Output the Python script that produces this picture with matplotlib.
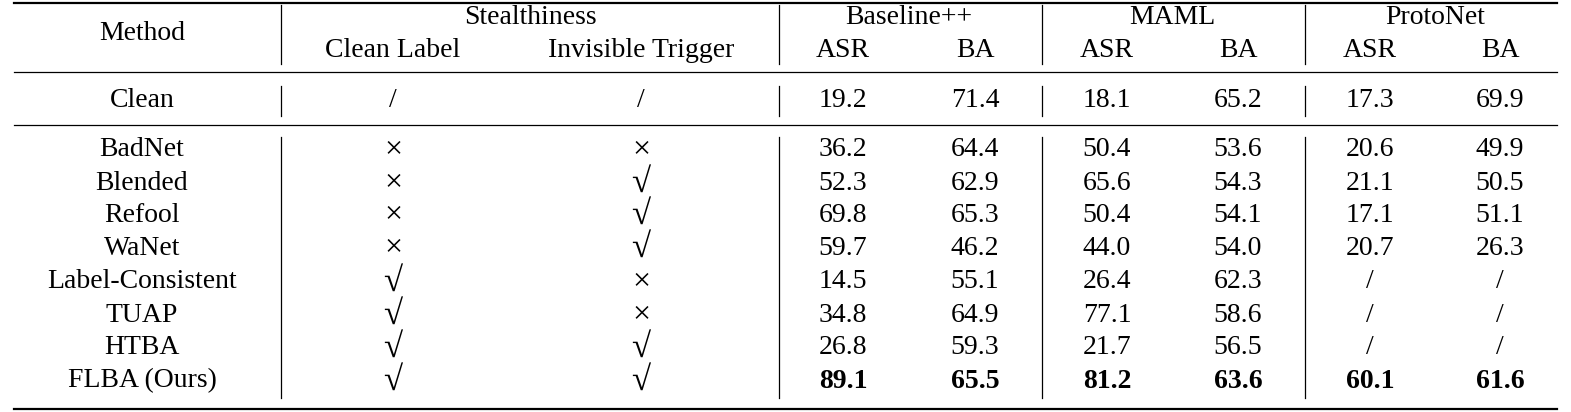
import matplotlib
matplotlib.use("Agg")
import matplotlib.pyplot as plt

plt.rcParams['font.family'] = ['Liberation Serif', 'DejaVu Serif']

methods = ["Clean", "BadNet", "Blended", "Refool", "WaNet", "Label-Consistent", "TUAP", "HTBA", "FLBA (Ours)"]
clean_label = ["/", "×", "×", "×", "×", "√", "√", "√", "√"]
invisible = ["/", "×", "√", "√", "√", "×", "×", "√", "√"]
baseline_asr = ["19.2", "36.2", "52.3", "69.8", "59.7", "14.5", "34.8", "26.8", "89.1"]
baseline_ba = ["71.4", "64.4", "62.9", "65.3", "46.2", "55.1", "64.9", "59.3", "65.5"]
maml_asr = ["18.1", "50.4", "65.6", "50.4", "44.0", "26.4", "77.1", "21.7", "81.2"]
maml_ba = ["65.2", "53.6", "54.3", "54.1", "54.0", "62.3", "58.6", "56.5", "63.6"]
proto_asr = ["17.3", "20.6", "21.1", "17.1", "20.7", "/", "/", "/", "60.1"]
proto_ba = ["69.9", "49.9", "50.5", "51.1", "26.3", "/", "/", "/", "61.6"]

W, H = 1571, 412
fig = plt.figure(figsize=(W/100, H/100), dpi=100)
ax = fig.add_axes([0, 0, 1, 1])
ax.set_xlim(0, W); ax.set_ylim(H, 0); ax.axis('off')

fs = 20
colx = [142, 393, 641, 843, 975, 1107, 1238, 1370, 1500]
def t(x, y, s, bold=False):
    size = fs
    if s == "√":
        size = 25
    elif s == "×":
        size = 23
    ax.text(x, y, s, ha='center', va='center', fontsize=size, fontweight='bold' if bold else 'normal')

t(142, 33, "Method")
t(530, 17, "Stealthiness")
t(393, 50, "Clean Label"); t(641, 50, "Invisible Trigger")
for cx, name in [(909, "Baseline++"), (1172, "MAML"), (1435, "ProtoNet")]:
    t(cx, 17, name)
for i, x in enumerate(colx[3:]):
    t(x, 50, "ASR" if i % 2 == 0 else "BA")

rows_y = [100, 150, 183, 215, 248, 282, 315, 348, 381]
cols = [methods, clean_label, invisible, baseline_asr, baseline_ba, maml_asr, maml_ba, proto_asr, proto_ba]
for r, y in enumerate(rows_y):
    for c, col in enumerate(cols):
        bold = (r == len(rows_y) - 1 and c >= 3)
        t(colx[c], y, col[r], bold)

ax.plot([14, 1557], [3, 3], color='black', lw=1.6)
ax.plot([14, 1557], [72, 72], color='black', lw=0.9)
ax.plot([14, 1557], [125, 125], color='black', lw=0.9)
ax.plot([14, 1557], [409, 409], color='black', lw=1.6)
for vx in [281, 779, 1042, 1305]:
    for y0, y1 in [(5, 64), (86, 116), (137, 398)]:
        ax.plot([vx, vx], [y0, y1], color='black', lw=0.9)

fig.savefig("out.png", dpi=100)
